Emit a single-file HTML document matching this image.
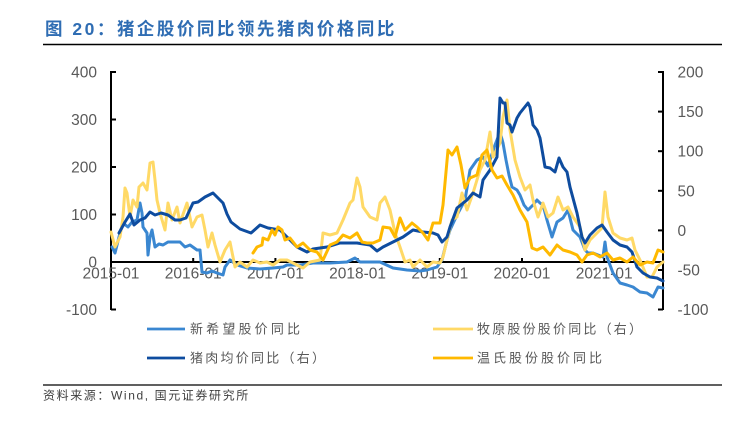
<!DOCTYPE html>
<html><head><meta charset="utf-8">
<style>
html,body{margin:0;padding:0;background:#fff;}
svg{display:block;}
</style></head>
<body>
<svg width="753" height="425" viewBox="0 0 753 425" xmlns="http://www.w3.org/2000/svg">
<rect width="753" height="425" fill="#fff"/>
<!-- Title -->
<text x="45" y="35" font-family="Liberation Sans, Noto Sans CJK SC, sans-serif" font-size="17.5" font-weight="bold" fill="#2F6DB3" letter-spacing="2.5">图 20：猪企股价同比领先猪肉价格同比</text>
<line x1="43" y1="44.5" x2="722" y2="44.5" stroke="#000" stroke-width="1.5"/>

<!-- Axes -->
<g stroke="#000" stroke-width="2" fill="none">
<line x1="111" y1="71" x2="111" y2="310"/>
<line x1="663" y1="71" x2="663" y2="310"/>
<line x1="110" y1="262" x2="664" y2="262"/>
<line x1="111" y1="72" x2="116" y2="72"/>
<line x1="111" y1="119.5" x2="116" y2="119.5"/>
<line x1="111" y1="167" x2="116" y2="167"/>
<line x1="111" y1="214.5" x2="116" y2="214.5"/>
<line x1="111" y1="309.5" x2="116" y2="309.5"/>
<line x1="658" y1="72" x2="663" y2="72"/>
<line x1="658" y1="111.6" x2="663" y2="111.6"/>
<line x1="658" y1="151.2" x2="663" y2="151.2"/>
<line x1="658" y1="190.8" x2="663" y2="190.8"/>
<line x1="658" y1="230.4" x2="663" y2="230.4"/>
<line x1="658" y1="270" x2="663" y2="270"/>
<line x1="658" y1="309.5" x2="663" y2="309.5"/>
<line x1="193.2" y1="258" x2="193.2" y2="262"/>
<line x1="275.4" y1="258" x2="275.4" y2="262"/>
<line x1="357.6" y1="258" x2="357.6" y2="262"/>
<line x1="439.8" y1="258" x2="439.8" y2="262"/>
<line x1="522" y1="258" x2="522" y2="262"/>
<line x1="604.2" y1="258" x2="604.2" y2="262"/>
</g>

<g font-family="Liberation Sans, sans-serif" font-size="15.5" fill="#595959" text-anchor="end">
<text x="97" y="77.5">400</text>
<text x="97" y="125">300</text>
<text x="97" y="172.5">200</text>
<text x="97" y="220">100</text>
<text x="97" y="267.5">0</text>
<text x="97" y="315">-100</text>
</g>
<g font-family="Liberation Sans, sans-serif" font-size="15.5" fill="#595959" text-anchor="start">
<text x="677.5" y="77.5">200</text>
<text x="677.5" y="117">150</text>
<text x="677.5" y="156.7">100</text>
<text x="677.5" y="196.3">50</text>
<text x="677.5" y="236">0</text>
<text x="677.5" y="275.5">-50</text>
<text x="677.5" y="315">-100</text>
</g>
<g font-family="Liberation Sans, sans-serif" font-size="15.5" fill="#595959" text-anchor="middle">
<text x="111" y="278.5">2015-01</text>
<text x="193.2" y="278.5">2016-01</text>
<text x="275.4" y="278.5">2017-01</text>
<text x="357.6" y="278.5">2018-01</text>
<text x="439.8" y="278.5">2019-01</text>
<text x="522" y="278.5">2020-01</text>
<text x="604.2" y="278.5">2021-01</text>
</g>

<g fill="none" stroke-width="3" stroke-linejoin="round" stroke-linecap="round">
<polyline stroke="#3A87D1" points="112,247 115,253 120,233 123,223 128,227 132,222 137,220 140,203 142,213 143,227 147,233 148,255 150,237 152,230 155,247 159,244 163,245 168,242 173,242 180,242 185,247 190,245 197,250 200,250 202,272 207,273 212,271 217,273 223,275 225,267 230,260 237,265 247,268 260,269 273,268 283,267 287,265 300,265 313,263 330,263 347,262 355,258 360,262 380,262 393,268 407,270 420,271 427,270 437,267 442,260 447,240 450,230 457,215 465,200 470,170 477,160 483,157 488,166 495,145 500,132 503,143 506,160 509,175 512,187 517,190 520,195 524,205 528,210 533,205 537,200 540,203 543,205 547,220 552,237 557,222 563,218 568,210 573,230 580,237 585,250 588,253 593,253 603,257 605,242 607,257 613,273 620,283 627,285 633,287 640,292 647,293 653,297 658,287 663,288"/>
<polyline stroke="#FFD966" points="111,232 115,247 120,237 123,217 125,188 127,193 130,217 133,200 137,207 139,187 143,183 147,190 150,163 153,162 155,180 157,200 160,213 165,230 168,203 172,220 177,207 180,223 187,203 192,227 197,217 202,215 205,230 208,247 212,233 215,245 220,262 225,250 230,242 235,267 240,262 247,267 253,260 260,263 267,262 273,265 280,260 287,260 297,265 303,268 310,262 320,260 323,233 330,235 337,233 343,220 350,203 353,200 357,178 360,187 363,207 370,217 377,220 380,203 385,197 390,210 395,233 400,247 405,262 410,260 413,267 420,260 427,267 433,262 440,263 443,257 447,240 452,220 457,217 462,193 467,210 473,193 480,170 485,160 490,132 493,157 500,143 503,117 507,100 510,130 515,160 520,177 525,190 530,185 533,200 538,217 543,203 548,217 553,213 558,197 563,210 568,207 573,217 580,227 585,250 590,240 597,233 602,228 605,192 608,217 613,233 620,238 627,240 632,238 635,250 640,260 647,277 652,277 657,267 663,262"/>
<polyline stroke="#0E4C9F" points="119,233 125,222 130,214 134,225 140,220 145,218 150,212 155,215 161,213 168,215 175,220 180,220 186,218 193,203 198,202 205,197 213,193 218,198 223,203 227,214 231,222 240,229 251,233 260,225 268,228 280,230 287,237 297,247 307,252 313,249 327,247 340,243 357,243 370,245 377,251 383,247 393,242 403,237 413,230 423,232 433,233 438,235 442,242 447,237 450,227 457,208 467,200 473,193 480,197 483,180 490,170 497,157 500,98 503,103 505,103 507,123 510,125 512,132 517,118 520,113 528,103 530,107 533,125 537,130 540,138 545,167 550,168 555,172 559,158 563,167 567,172 570,187 577,213 582,237 585,243 590,235 597,228 602,225 607,232 613,240 620,245 627,247 632,252 637,267 643,273 650,277 657,278 663,281"/>
<polyline stroke="#FFB900" points="253,253 257,247 262,245 263,238 268,240 272,230 275,235 278,227 282,230 285,240 290,238 297,247 303,243 310,250 317,252 323,260 330,245 337,242 343,235 350,238 357,233 362,242 367,243 373,243 380,240 383,227 390,228 395,237 400,218 405,230 412,223 417,227 423,233 428,240 433,223 440,223 443,205 448,150 452,155 457,147 461,165 465,188 470,178 477,175 482,155 487,150 492,170 497,178 502,176 507,185 513,195 520,210 527,222 532,248 537,250 543,247 550,255 557,245 563,250 570,252 577,255 582,262 587,255 593,253 600,257 607,253 613,260 620,258 627,262 633,257 640,265 647,262 653,263 658,250 663,252"/>
</g>

<g stroke-width="2.8">
<line x1="147" y1="329" x2="185" y2="329" stroke="#3A87D1"/>
<line x1="147" y1="358" x2="185" y2="358" stroke="#0E4C9F"/>
<line x1="433" y1="329" x2="473" y2="329" stroke="#FFD966"/>
<line x1="433" y1="358" x2="473" y2="358" stroke="#FFB900"/>
</g>
<g font-family="Liberation Sans, Noto Sans CJK SC, sans-serif" font-size="13" fill="#595959">
<text x="190" y="333.5" textLength="110" lengthAdjust="spacing">新希望股价同比</text>
<text x="190" y="362.5" textLength="135" lengthAdjust="spacing">猪肉均价同比（右）</text>
<text x="477" y="333.5" textLength="165" lengthAdjust="spacing">牧原股份股价同比（右）</text>
<text x="477" y="362.5" textLength="125" lengthAdjust="spacing">温氏股份股价同比</text>
</g>

<line x1="43" y1="385" x2="722" y2="385" stroke="#000" stroke-width="1.3"/>
<text x="43" y="399.5" font-family="Liberation Sans, Noto Sans CJK SC, sans-serif" font-size="12" fill="#404040" letter-spacing="1.6">资料来源：Wind, 国元证券研究所</text>
</svg>
</body></html>
